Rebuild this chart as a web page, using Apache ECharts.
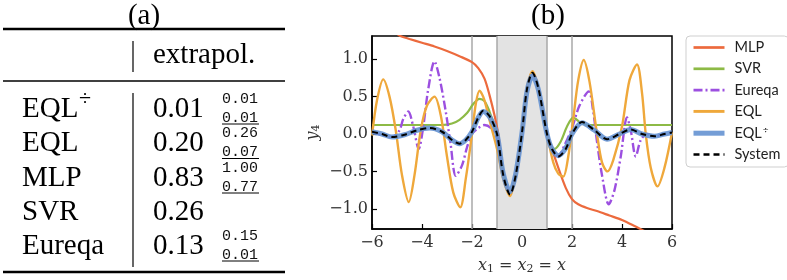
<!DOCTYPE html>
<html>
<head>
<meta charset="utf-8">
<script src="https://cdn.jsdelivr.net/npm/echarts@6/dist/echarts.min.js"></script>
<style>
  html, body { margin: 0; padding: 0; background: #fff; }
  #chart { width: 787px; height: 280px; }
</style>
</head>
<body>
<div id="chart"></div>
<script>
// (a) table
const tableModels = ['EQL÷', 'EQL', 'MLP', 'SVR', 'Eureqa']
const tableExtrapol = ['0.01', '0.20', '0.83', '0.26', '0.13']
const tableUpper = ['0.01', '0.26', '1.00', '', '0.15']
const tableLower = ['0.01', '0.07', '0.77', '', '0.01']

// (b) curves, [x, y4]
const seriesNames = ['MLP', 'SVR', 'Eureqa', 'EQL', 'EQL÷', 'System']
const mlpPoints = [
  [-5.0, 1.34], [-4.87, 1.31], [-4.5, 1.27], [-4.0, 1.22], [-3.5, 1.17], [-3.0, 1.11],
  [-2.5, 1.04], [-2.0, 0.96], [-1.75, 0.88], [-1.5, 0.74], [-1.3, 0.52], [-1.1, 0.25],
  [-0.95, 0.0], [-0.75, -0.5], [-0.48, -0.8], [-0.25, -0.55], [0.0, 0.02], [0.2, 0.6],
  [0.42, 0.82], [0.65, 0.62], [1.0, 0.02], [1.2, -0.2], [1.45, -0.45], [1.75, -0.72],
  [2.0, -0.87], [2.25, -0.94], [2.6, -0.99], [3.0, -1.03], [3.5, -1.09], [4.0, -1.15],
  [4.5, -1.23], [4.85, -1.29], [5.0, -1.31]
]
const svrPoints = [
  [-6.0, 0.12], [-5.0, 0.12], [-4.0, 0.12], [-3.2, 0.12], [-2.8, 0.14], [-2.5, 0.19],
  [-2.2, 0.28], [-1.95, 0.4], [-1.7, 0.47], [-1.5, 0.44], [-1.3, 0.3], [-1.1, 0.1],
  [-0.9, -0.2], [-0.75, -0.5], [-0.48, -0.79], [-0.25, -0.55], [0.0, 0.02], [0.2, 0.6],
  [0.42, 0.82], [0.65, 0.62], [1.0, 0.02], [1.3, -0.2], [1.55, -0.1], [1.8, 0.1],
  [2.05, 0.22], [2.35, 0.15], [2.7, 0.12], [3.5, 0.12], [4.5, 0.12], [6.0, 0.12]
]
const eureqaPoints = [
  [-6.0, 0.03], [-5.2, -0.04], [-4.9, 0.05], [-4.75, 0.2], [-4.55, 0.3], [-4.35, 0.1],
  [-4.13, -0.2], [-3.95, 0.1], [-3.75, 0.6], [-3.5, 0.97], [-3.3, 0.75], [-3.05, 0.3],
  [-2.85, -0.15], [-2.65, -0.56], [-2.4, -0.42], [-2.2, -0.18], [-2.0, 0.0], [-1.75, 0.08],
  [-1.5, 0.12], [-1.25, 0.08], [-1.0, -0.05], [-0.75, -0.55], [-0.48, -0.8], [-0.25, -0.55],
  [0.0, 0.02], [0.2, 0.6], [0.42, 0.82], [0.65, 0.62], [1.0, 0.02], [1.2, -0.2],
  [1.45, -0.3], [1.7, -0.15], [2.0, 0.08], [2.3, 0.38], [2.67, 0.57], [2.85, 0.3],
  [3.0, -0.1], [3.2, -0.55], [3.47, -0.94], [3.7, -0.75], [3.95, -0.3], [4.2, 0.22],
  [4.35, 0.05], [4.55, -0.3], [4.75, -0.08], [5.0, 0.0], [5.3, -0.03], [5.7, 0.0], [6.0, 0.02]
]
const eqlPoints = [
  [-6.0, -0.02], [-5.8, 0.45], [-5.55, 0.73], [-5.3, 0.5], [-5.05, 0.05], [-4.8, -0.55],
  [-4.53, -0.91], [-4.3, -0.55], [-4.05, 0.05], [-3.8, 0.38], [-3.5, 0.5], [-3.25, 0.25],
  [-3.0, -0.3], [-2.75, -0.78], [-2.47, -0.98], [-2.25, -0.6], [-2.0, 0.0], [-1.85, 0.4],
  [-1.7, 0.58], [-1.52, 0.47], [-1.25, 0.12], [-1.0, -0.2], [-0.75, -0.6], [-0.48, -0.83],
  [-0.25, -0.55], [0.0, 0.04], [0.2, 0.62], [0.42, 0.84], [0.65, 0.62], [1.0, 0.0],
  [1.25, -0.38], [1.45, -0.53], [1.65, -0.57], [1.85, -0.3], [2.05, 0.2], [2.25, 0.72],
  [2.47, 0.99], [2.7, 0.7], [3.0, 0.0], [3.2, -0.38], [3.42, -0.5], [3.65, -0.35],
  [4.0, 0.1], [4.3, 0.72], [4.6, 0.93], [4.8, 0.55], [4.95, 0.0], [5.15, -0.45],
  [5.42, -0.7], [5.7, -0.45], [6.0, 0.02]
]
const eqlDivPoints = [
  [-6.0, 0.03], [-5.6, 0.0], [-5.2, -0.04], [-4.7, -0.01], [-4.2, 0.05], [-3.7, 0.08],
  [-3.2, 0.03], [-2.8, -0.08], [-2.5, -0.13], [-2.25, -0.08], [-2.0, 0.03], [-1.75, 0.22],
  [-1.55, 0.3], [-1.3, 0.23], [-1.0, 0.0], [-0.75, -0.53], [-0.48, -0.77], [-0.25, -0.53],
  [0.0, 0.02], [0.2, 0.57], [0.42, 0.78], [0.65, 0.6], [1.0, 0.0], [1.2, -0.2],
  [1.45, -0.29], [1.75, -0.19], [2.0, 0.0], [2.4, 0.15], [2.9, 0.05], [3.4, -0.07],
  [3.9, 0.0], [4.35, 0.06], [4.8, 0.0], [5.3, -0.03], [5.7, 0.0], [6.0, 0.02]
]
const systemPoints = [
  [-6.0, 0.03], [-5.6, 0.0], [-5.2, -0.04], [-4.7, -0.01], [-4.2, 0.05], [-3.7, 0.08],
  [-3.2, 0.03], [-2.8, -0.08], [-2.5, -0.13], [-2.25, -0.08], [-2.0, 0.03], [-1.75, 0.22],
  [-1.55, 0.31], [-1.3, 0.24], [-1.0, 0.0], [-0.75, -0.55], [-0.48, -0.81], [-0.25, -0.55],
  [0.0, 0.02], [0.2, 0.6], [0.42, 0.82], [0.65, 0.62], [1.0, 0.0], [1.2, -0.2],
  [1.45, -0.3], [1.75, -0.2], [2.0, 0.0], [2.4, 0.16], [2.9, 0.05], [3.4, -0.07],
  [3.9, 0.0], [4.35, 0.06], [4.8, 0.0], [5.3, -0.03], [5.7, 0.0], [6.0, 0.02]
]
const yTicks = [-1.0, -0.5, 0.0, 0.5, 1.0]
const trainRange = [-1, 1]
const boundaryLines = [-2, -1, 1, 2]

const serif = "'Liberation Serif', 'Times New Roman', serif"
const cm = "'DejaVu Serif', 'Liberation Serif', serif"

function fmt(v, digits) {
  const s = Math.abs(v).toFixed(digits)
  return v < 0 ? '\u2212' + s : s
}

// table drawn with graphic elements
const rowMid = [109, 143.5, 178, 212, 246]
const graphic = []
const txt = (x, y, text, font, align, fill) => ({
  type: 'text', x, y, silent: true,
  style: { text, font, align: align || 'left', textAlign: align || 'left',
    verticalAlign: 'middle', textVerticalAlign: 'middle', fill: fill || '#000' }
})
const hline = (x1, x2, y, w) => ({
  type: 'line', silent: true, shape: { x1, y1: y, x2, y2: y }, style: { stroke: '#000', lineWidth: w }
})
const vline = (x, y1, y2, w) => ({
  type: 'line', silent: true, shape: { x1: x, y1, x2: x, y2 }, style: { stroke: '#000', lineWidth: w }
})

graphic.push(txt(144, 16, '(a)', '29px ' + serif, 'center'))
graphic.push(txt(548, 16, '(b)', '29px ' + serif, 'center'))
graphic.push(hline(3, 285, 29, 2.4))
graphic.push(vline(133, 41, 72, 1.2))
graphic.push(txt(153, 55, 'extrapol.', '29px ' + serif))
graphic.push(hline(3, 285, 81, 1.3))
graphic.push(vline(133, 93, 267, 1.2))
graphic.push(hline(3, 285, 272, 2.4))

const smallFont = "15px 'Liberation Mono', monospace"
tableModels.forEach((name, i) => {
  const y = rowMid[i]
  if (name.endsWith('÷')) {
    graphic.push(txt(22, y, name.slice(0, -1), '29px ' + serif))
    graphic.push(txt(79, y - 10, '÷', '22px ' + serif))
  } else {
    graphic.push(txt(22, y, name, '29px ' + serif))
  }
  graphic.push(txt(153, y, tableExtrapol[i], '29px ' + serif))
  if (tableUpper[i]) {
    graphic.push(txt(222, y - 10, tableUpper[i], smallFont, 'left', '#111'))
  }
  if (tableLower[i]) {
    graphic.push(txt(222, y + 9, tableLower[i], smallFont, 'left', '#111'))
    graphic.push(hline(222, 259, y + 15, 1))
  }
})

const colors = {
  MLP: '#ec6a3d',
  SVR: '#8dba46',
  Eureqa: '#9c4fe0',
  EQL: '#efa83b',
  'EQL÷': '#6592d2',
  System: '#000000'
}
const widths = { MLP: 2.2, SVR: 2.2, Eureqa: 2.4, EQL: 2.4, 'EQL÷': 5, System: 2 }

function curve(name, points, type, z, opacity) {
  return {
    name, type: 'line', data: points, symbol: 'none', showSymbol: false,
    smooth: 0.3, z, silent: true, animation: false,
    itemStyle: { color: colors[name], opacity: 0 },
    lineStyle: { color: colors[name], width: widths[name], type, opacity: opacity || 1 },
    emphasis: { disabled: true }
  }
}

const chart = echarts.init(document.getElementById('chart'), null, { renderer: 'canvas' })

chart.setOption({
  animation: false,
  backgroundColor: '#fff',
  graphic,
  grid: {
    left: 372, top: 36, width: 300, height: 194,
    show: true, borderColor: '#000', borderWidth: 1.5, backgroundColor: 'transparent'
  },
  legend: {
    data: seriesNames.map((name) => ({ name, lineStyle: { width: Math.min(widths[name] + 0.5, 5) } })),
    orient: 'vertical',
    left: 686, top: 36,
    itemWidth: 31, itemHeight: 14, itemGap: 6.3,
    padding: [4, 8, 5, 5],
    backgroundColor: '#fff', borderColor: '#cfcfcf', borderWidth: 1, borderRadius: 4,
    selectedMode: false,
    itemStyle: { opacity: 0 },
    formatter: (name) => (name === 'EQL÷' ? '{n|EQL}{s|÷}' : name),
    textStyle: {
      fontFamily: 'Lato', fontSize: 14.5, color: '#222', padding: [0, 0, 0, 5],
      rich: {
        n: { fontFamily: 'Lato', fontSize: 14.5, color: '#222' },
        s: { fontFamily: 'Lato', fontSize: 10, color: '#222', padding: [0, 0, 6, 1] }
      }
    }
  },
  xAxis: {
    type: 'value', min: -6, max: 6, interval: 2,
    axisLine: { show: true, onZero: false, lineStyle: { color: '#000', width: 1.5 } },
    axisTick: { show: true, inside: true, length: 5, lineStyle: { color: '#000', width: 1.2 } },
    axisLabel: { formatter: (v) => fmt(v, 0), fontFamily: cm, fontSize: 16, color: '#333', margin: 6 },
    splitLine: { show: false },
    name: '{i|x}{s|1} = {i|x}{s|2} = {i|x}',
    nameLocation: 'middle', nameGap: 27,
    nameTextStyle: {
      color: '#333', fontFamily: cm, fontSize: 16,
      rich: {
        i: { fontFamily: cm, fontStyle: 'italic', fontSize: 16, color: '#333' },
        s: { fontFamily: cm, fontSize: 11, color: '#333', padding: [8, 0, 0, 0], verticalAlign: 'bottom' }
      }
    }
  },
  yAxis: {
    type: 'value', min: -1.27, max: 1.31,
    axisLine: { show: true, onZero: false, lineStyle: { color: '#000', width: 1.5 } },
    axisTick: { show: true, inside: true, length: 5, customValues: yTicks, lineStyle: { color: '#000', width: 1.2 } },
    axisLabel: { customValues: yTicks, formatter: (v) => fmt(v, 1), fontFamily: cm, fontSize: 16, color: '#333', margin: 4 },
    splitLine: { show: false },
    name: '{i|y}{s|4}',
    nameLocation: 'middle', nameGap: 50,
    nameTextStyle: {
      color: '#333', fontFamily: cm, fontSize: 16,
      rich: {
        i: { fontFamily: cm, fontStyle: 'italic', fontSize: 16, color: '#333' },
        s: { fontFamily: cm, fontSize: 11, color: '#333', padding: [8, 0, 0, 0], verticalAlign: 'bottom' }
      }
    }
  },
  series: [
    {
      type: 'line', data: [], z: 1, silent: true,
      markArea: {
        silent: true, z: 1,
        itemStyle: { color: '#e3e3e3' },
        data: [[{ xAxis: trainRange[0] }, { xAxis: trainRange[1] }]]
      },
      markLine: {
        silent: true, z: 1, symbol: 'none', animation: false,
        label: { show: false },
        lineStyle: { color: '#a9a9a9', width: 1.5, type: 'solid' },
        data: boundaryLines.map((v) => ({ xAxis: v }))
      }
    },
    curve('MLP', mlpPoints, 'solid', 3),
    curve('SVR', svrPoints, 'solid', 4),
    curve('Eureqa', eureqaPoints, [9, 3, 2, 3], 5),
    curve('EQL', eqlPoints, 'solid', 6),
    curve('EQL÷', eqlDivPoints, 'solid', 7, 0.9),
    curve('System', systemPoints, [6, 4], 8)
  ]
})
</script>
</body>
</html>
